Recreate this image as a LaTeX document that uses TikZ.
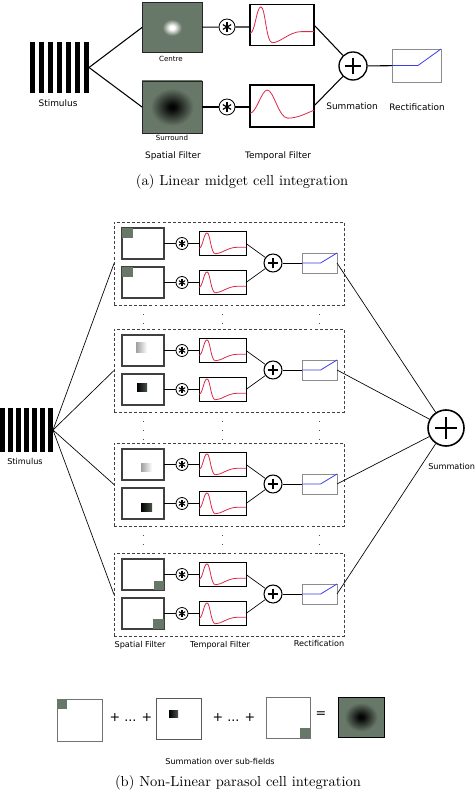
\documentclass[tikz,border=0pt]{standalone}
\usepackage{fontspec}
\newfontfamily\labelfont{DejaVu Sans}
\usepackage{tikz}
\usetikzlibrary{positioning}
\usetikzlibrary{calc}

\definecolor{fieldgreen}{RGB}{104,120,104}
\definecolor{respred}{RGB}{222,40,72}
\definecolor{rectblue}{RGB}{60,60,235}

\pgfdeclareradialshading{centrespot}{\pgfpoint{0bp}{0bp}}{color(0bp)=(white); color(2bp)=(white); color(8bp)=(fieldgreen); color(50bp)=(fieldgreen)}
\pgfdeclareradialshading{surroundspot}{\pgfpoint{0bp}{0bp}}{color(0bp)=(black); color(3bp)=(black!92!fieldgreen); color(18bp)=(fieldgreen); color(50bp)=(fieldgreen)}

\newcommand{\fastresp}[3]{%
  \begin{scope}[shift={(#1.north west)}, x=#2, y=-#3]
    \draw[respred, line width=0.6pt] (0,0.7) .. controls (0.08,0.7) and (0.1,0.06) .. (0.17,0.06)
      .. controls (0.24,0.06) and (0.25,0.93) .. (0.35,0.93)
      .. controls (0.47,0.93) and (0.62,0.66) .. (0.8,0.66) -- (1,0.66);
  \end{scope}}
\newcommand{\slowresp}[3]{%
  \begin{scope}[shift={(#1.north west)}, x=#2, y=-#3]
    \draw[respred, line width=0.6pt] (0,0.67) .. controls (0.1,0.67) and (0.18,0.12) .. (0.27,0.12)
      .. controls (0.37,0.12) and (0.45,0.79) .. (0.59,0.79)
      .. controls (0.75,0.79) and (0.9,0.66) .. (1,0.6);
  \end{scope}}
\newcommand{\rectresp}[3]{%
  \begin{scope}[shift={(#1.north west)}, x=#2, y=-#3]
    \draw[rectblue, line width=0.6pt] (0,0.5) -- (0.53,0.5) -- (1,0);
  \end{scope}}

\begin{document}
\begin{tikzpicture}[x=0.75pt, y=-0.75pt,
  link/.style={line width=0.8pt},
  thinlink/.style={line width=0.5pt},
  lbl/.style={font=\labelfont\fontsize{6.7}{8}\selectfont, inner sep=0pt},
  smalllbl/.style={font=\labelfont\fontsize{5.3}{6}\selectfont, inner sep=0pt},
  sublbl/.style={font=\labelfont\fontsize{6.1}{7}\selectfont, inner sep=0pt},
  sumtext/.style={font=\labelfont\fontsize{9.5}{11}\selectfont, inner sep=0pt},
  caption/.style={font=\fontsize{10.9}{13}\selectfont, inner sep=0pt},
  box/.style={rectangle, inner sep=0pt, outer sep=0pt},
  field/.style={box, draw=black!85, line width=0.7pt, shading=#1, shade},
  tempbox/.style={box, draw=black, line width=0.8pt, fill=white},
  rectbox/.style={box, draw=black!45, line width=0.7pt, fill=white},
  subfield/.style={box, draw=black!75, line width=0.8pt, fill=white, minimum width=31.5pt, minimum height=23.25pt},
  stage/.style={box, draw=black!75, line width=0.6pt, dash pattern=on 2.2pt off 1.6pt, minimum width=172.5pt, minimum height=62.25pt},
  dotline/.style={black!70, line width=0.6pt, dash pattern=on 0.7pt off 6pt},
  conv/.style 2 args={circle, draw, line width=0.6pt, inner sep=0pt, minimum size=#1, fill=white,
    path picture={\foreach \a in {90,30,150}
      \draw[line width=#2] ($(path picture bounding box.center)+(\a:0.3*#1)$) -- ($(path picture bounding box.center)+(\a+180:0.3*#1)$);}},
  sumnode/.style 2 args={circle, draw, line width=#2, inner sep=0pt, fill=white, minimum size=#1,
    path picture={\draw[line width=#2] ([xshift=-0.3*#1]path picture bounding box.center) -- ([xshift=0.3*#1]path picture bounding box.center)
      ([yshift=-0.3*#1]path picture bounding box.center) -- ([yshift=0.3*#1]path picture bounding box.center);}}
]
\useasboundingbox (0,0) rectangle (474,791);

% (a) midget cell
\node[box, fill=black, minimum width=44.25pt, minimum height=38.25pt] (stimM) at (59.5,67.5) {};
\foreach \k in {1,3,...,11}
  \fill[white] ($(stimM.north west)+(\k*4.54,0)$) rectangle ($(stimM.south west)+(\k*4.54+4.54,0)$);
\node[lbl] (stimMlbl) at (58,103) {Stimulus};

\node[field=centrespot, minimum width=45pt, minimum height=38pt] (ctr) at (172,27.5) {};
\node[smalllbl] (ctrlbl) at (171,59) {Centre};
\node[field=surroundspot, minimum width=45pt, minimum height=39pt] (srd) at (172,107) {};
\node[smalllbl] (srdlbl) at (172,137.5) {Surround};
\node[lbl] (spatMlbl) at (173,156) {Spatial Filter};

\node[conv={12pt}{0.9pt}] (cvC) at (227,27) {};
\node[conv={12pt}{0.9pt}] (cvS) at (227,107) {};
\node[tempbox, minimum width=48pt, minimum height=31pt] (tfC) at (282,25) {};
\fastresp{tfC}{48pt}{31pt}
\node[tempbox, minimum width=48pt, minimum height=31.5pt] (tfS) at (282,106) {};
\slowresp{tfS}{48pt}{31.5pt}
\node[lbl] (tempMlbl) at (278,156) {Temporal Filter};

\node[sumnode={21pt}{1pt}] (sumM) at (353,66) {};
\node[lbl] (sumMlbl) at (352,106) {Summation};
\node[rectbox, minimum width=36.75pt, minimum height=24.75pt] (recM) at (416.5,65.5) {};
\rectresp{recM}{36.75pt}{24.75pt}
\node[lbl] (recMlbl) at (417,107) {Rectification};

\draw[link] (stimM.east) -- (ctr.west);
\draw[link] (stimM.east) -- (srd.west);
\draw[link] (ctr) -- (cvC) -- (cvC -| tfC.west);
\draw[link] (srd) -- (cvS) -- (cvS -| tfS.west);
\draw[link] (tfC.east) -- (sumM);
\draw[link] (tfS.east) -- (sumM);
\draw[link] (sumM) -- (recM);

\node[caption] (capM) at (242,182) {(a) Linear midget cell integration};

% (b) parasol cell
\node[box, fill=black, minimum width=39.75pt, minimum height=33pt] (stimP) at (26.5,430) {};
\foreach \k in {0,...,5}
  \fill[white] ($(stimP.north west)+(4.6+8*\k,0)$) rectangle ($(stimP.south west)+(8+8*\k,0)$);
\node[sublbl] (stimPlbl) at (25,461) {Stimulus};
\node[sumnode={27pt}{1.2pt}] (sumP) at (446,428) {};
\node[sublbl, anchor=west] (sumPlbl) at (428,466) {Summation};

\foreach \i/\ty in {1/222,2/329,3/443,4/553} {
  \node[stage] (stage\i) at (229,\ty+41.5) {};
  \node[subfield] (spU\i) at (143,\ty+21.5) {};
  \node[subfield] (spL\i) at (143,\ty+60.5) {};
  \node[conv={9pt}{0.8pt}] (cvU\i) at (182,\ty+21.5) {};
  \node[conv={9pt}{0.8pt}] (cvL\i) at (182,\ty+60.5) {};
  \node[tempbox, line width=0.6pt, minimum width=35.25pt, minimum height=18pt] (tfU\i) at (222.5,\ty+21.5) {};
  \node[tempbox, line width=0.6pt, minimum width=35.25pt, minimum height=18pt] (tfL\i) at (222.5,\ty+60.5) {};
  \fastresp{tfU\i}{35.25pt}{18pt}
  \fastresp{tfL\i}{35.25pt}{18pt}
  \node[sumnode={13.5pt}{0.8pt}] (sum\i) at (273,\ty+41) {};
  \node[rectbox, minimum width=26.25pt, minimum height=15pt] (rec\i) at (319.5,\ty+41) {};
  \rectresp{rec\i}{26.25pt}{15pt}
  \draw[thinlink] (spU\i) -- (cvU\i) -- (tfU\i);
  \draw[thinlink] (spL\i) -- (cvL\i) -- (tfL\i);
  \draw[thinlink] (tfU\i.east) -- (sum\i);
  \draw[thinlink] (tfL\i.east) -- (sum\i);
  \draw[thinlink] (sum\i) -- (rec\i);
  \draw[thinlink] (stimP.east) -- (stage\i.west);
  \draw[thinlink] (rec\i.east) -- (sumP);
}
\foreach \i/\j in {1/2,2/3,3/4} {
  \draw[dotline] (stage\i.south -| spU\i) -- (stage\j.north -| spU\j);
  \draw[dotline] (stage\i.south -| tfU\i) -- (stage\j.north -| tfU\j);
  \draw[dotline] (stage\i.south -| rec\i) -- (stage\j.north -| rec\j);
}

\fill[fieldgreen] (spU1.north west) rectangle ++(11,10);
\fill[fieldgreen] (spL1.north west) rectangle ++(11,10);
\shade[left color=gray!75, right color=white] ($(spU2.north west)+(14,7)$) rectangle ++(11,10);
\shade[left color=black, right color=fieldgreen!70!black] ($(spL2.north west)+(15,9)$) rectangle ++(10,8);
\shade[left color=gray!75, right color=white] ($(spU3.north west)+(19,14)$) rectangle ++(11,8);
\shade[left color=black, right color=fieldgreen!70!black] ($(spL3.north west)+(19,15)$) rectangle ++(11,8);
\fill[fieldgreen] (spU4.south east) rectangle ++(-10,-9);
\fill[fieldgreen] (spL4.south east) rectangle ++(-11,-10);

\node[sublbl] (spatPlbl) at (140,645) {Spatial Filter};
\node[sublbl] (tempPlbl) at (220,645) {Temporal Filter};
\node[sublbl] (recPlbl) at (319,643) {Rectification};

% summation over sub-fields
\node[box, draw=black!55, line width=0.7pt, minimum width=33.75pt, minimum height=31.5pt] (sf1) at (79.5,720) {};
\fill[fieldgreen] (sf1.north west) rectangle ++(10,10);
\node[sumtext] (pl1) at (131,718) {+ ... +};
\node[box, draw=black!65, line width=0.7pt, minimum width=33.75pt, minimum height=30.75pt] (sf2) at (178.5,719) {};
\shade[left color=black, right color=fieldgreen!70!black] ($(sf2.north west)+(13,12)$) rectangle ++(9,7);
\node[sumtext] (pl2) at (234,718) {+ ... +};
\node[box, draw=black!55, line width=0.7pt, minimum width=33pt, minimum height=30.75pt] (sf3) at (288,717.5) {};
\fill[fieldgreen] (sf3.south east) rectangle ++(-10,-10);
\node[sumtext] (eq) at (321,715) {=};
\node[field=surroundspot, draw=black, minimum width=34.5pt, minimum height=30pt] (sfall) at (361,717) {};
\node[sublbl] (sflbl) at (220,761) {Summation over sub-fields};

\node[caption] (capP) at (238,783) {(b) Non-Linear parasol cell integration};
\end{tikzpicture}
\end{document}
